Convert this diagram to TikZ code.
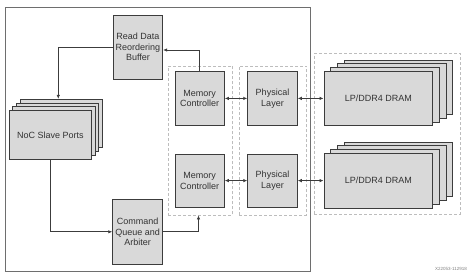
\documentclass[tikz,border=0pt]{standalone}
\usepackage{fontspec}
\setmainfont{Liberation Sans}
\usetikzlibrary{arrows.meta}
\definecolor{blockgray}{HTML}{D9D9D9}
\definecolor{edgegray}{HTML}{3C3C3C}
\definecolor{dashgray}{HTML}{BDBDBD}
\definecolor{framegray}{HTML}{6E6E6E}
\definecolor{textgray}{HTML}{333333}

\begin{document}
\begin{tikzpicture}[x=1pt, y=-1pt,
    block/.style={fill=blockgray, draw=edgegray, line width=0.9pt, inner sep=0pt,
                  align=center, text=textgray, font=\fontsize{9}{10.7}\selectfont},
    group/.style={draw=dashgray, line width=0.8pt, dash pattern=on 3pt off 2pt, inner sep=0pt},
    link/.style={draw=edgegray, line width=0.7pt, -{Latex[length=4pt,width=3.5pt]}},
    duplex/.style={draw=edgegray, line width=0.7pt,
                   {Latex[length=4pt,width=3.5pt]}-{Latex[length=4pt,width=3.5pt]}}]
  \useasboundingbox (0,0) rectangle (474,276);

  \node[draw=framegray, line width=0.9pt, inner sep=0pt,
        minimum width=305.5pt, minimum height=264pt] (soc) at (157.75,139) {};

  % dashed groups
  \node[group, minimum width=64.4pt, minimum height=149pt] (mcg) at (200.5,140.5) {};
  \node[group, minimum width=67.4pt, minimum height=149pt] (phyg) at (273,140.5) {};
  \node[group, minimum width=146pt, minimum height=160.7pt] (dramg) at (387,133.65) {};

  \node[block, minimum width=49.4pt, minimum height=64pt] (rdrb) at (138,47)
    {Read Data\\Reordering\\Buffer};
  \node[block, minimum width=50pt, minimum height=65pt] (cqa) at (137.7,231.8)
    {Command\\Queue and\\Arbiter};

  \foreach \k in {3,2,1}
    \node[block, minimum width=82.4pt, minimum height=48.6pt] (noc\k) at (50.5+3.6*\k,135-3.8*\k) {};
  \node[block, minimum width=82.4pt, minimum height=48.6pt] (noc) at (50.5,135) {NoC Slave Ports};

  \node[block, minimum width=49.3pt, minimum height=53.3pt] (mcA) at (199.7,98.4) {Memory\\Controller};
  \node[block, minimum width=49.3pt, minimum height=53.3pt] (mcB) at (199.7,180.6) {Memory\\Controller};
  \node[block, minimum width=49.6pt, minimum height=53.3pt] (phyA) at (272.5,98.4) {Physical\\Layer};
  \node[block, minimum width=49.6pt, minimum height=53.3pt] (phyB) at (272.5,180.6) {Physical\\Layer};

  \foreach \k in {3,2,1} {
    \node[block, minimum width=108.7pt, minimum height=54.7pt] (dramA\k) at (378.3+6.7*\k,98.4-3.7*\k) {};
    \node[block, minimum width=108.7pt, minimum height=54.7pt] (dramB\k) at (378.3+6.7*\k,180.6-3.7*\k) {};
  }
  \node[block, minimum width=108.7pt, minimum height=54.7pt] (dramA) at (378.3,98.4) {LP/DDR4 DRAM};
  \node[block, minimum width=108.7pt, minimum height=54.7pt] (dramB) at (378.3,180.6) {LP/DDR4 DRAM};

  \draw[link] (mcA.north) |- ([yshift=-3pt]rdrb.east);
  \draw[link] (rdrb.west) -| ([xshift=-3pt]noc3.north);
  \draw[link] (noc.south) |- (cqa.west);
  \draw[link] (cqa.east) -| ([xshift=-2pt]mcg.south);

  \draw[duplex] (mcA.east) -- (phyA.west);
  \draw[duplex] (mcB.east) -- (phyB.west);
  \draw[duplex] (phyA.east) -- (dramA.west);
  \draw[duplex] (phyB.east) -- (dramB.west);

  \node[font=\fontsize{4.5}{5}\selectfont, text=gray, anchor=east, inner sep=0pt] (docid)
    at (467,269) {X22053-112918};
\end{tikzpicture}
\end{document}
